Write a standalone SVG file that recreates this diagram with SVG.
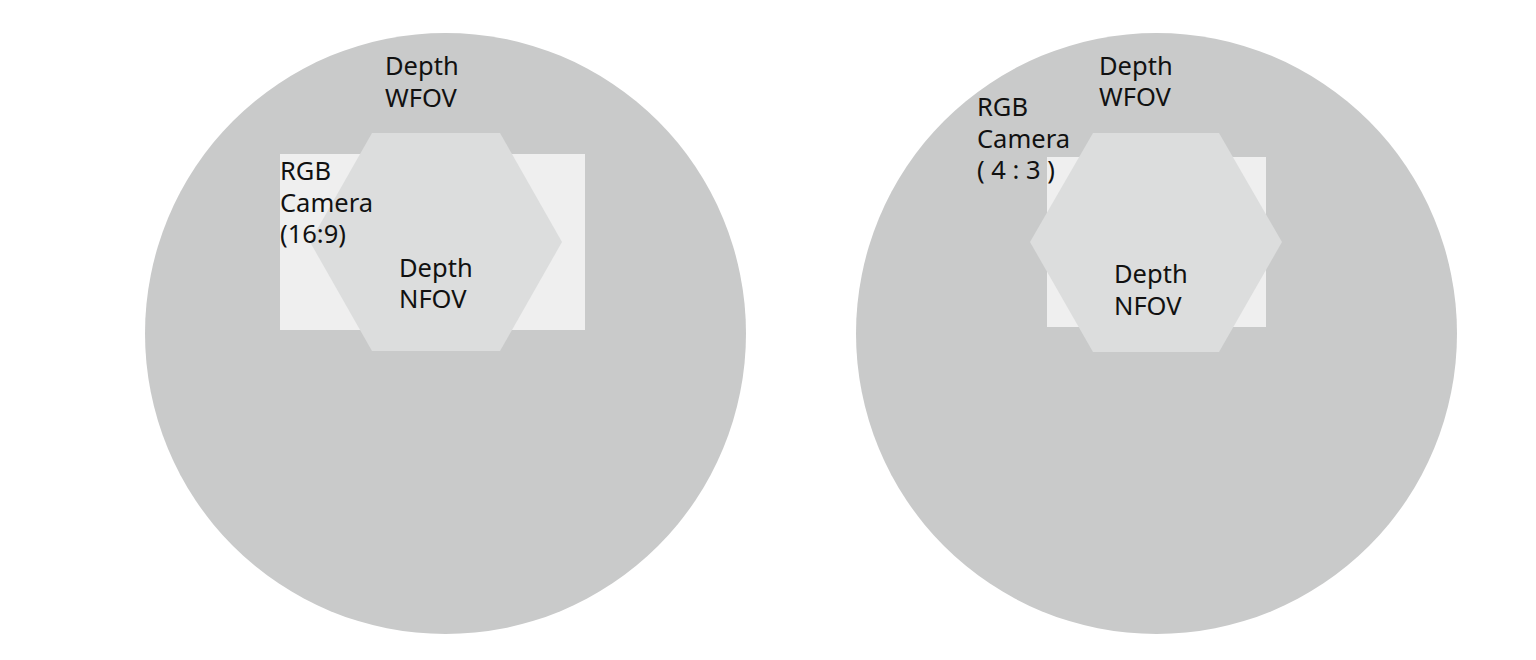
<svg xmlns="http://www.w3.org/2000/svg" width="1536" height="660" viewBox="0 0 1536 660">
<style>
.fov{fill:#c9caca}
.rgb{fill:#efefef}
.nfov{fill:#dcdddd}
text{font-family:"Noto Sans","Open Sans","DejaVu Sans",sans-serif;font-size:25.5px;fill:#111}
</style>
<rect width="1536" height="660" fill="#ffffff"/>
<g id="left">
<g id="left-wfov"><circle class="fov" cx="445.5" cy="333.5" r="300.5"/></g>
<g id="left-rgb"><rect class="rgb" x="280" y="154" width="305" height="176"/></g>
<g id="left-nfov"><polygon class="nfov" points="372,133 500,133 562,242 500,351 372,351 310,242"/></g>
<g id="left-labels">
<text x="385" y="75">Depth</text>
<text x="385" y="107">WFOV</text>
<text x="280" y="180">RGB</text>
<text x="280" y="212">Camera</text>
<text x="280" y="243">(16:9)</text>
<text x="399" y="277">Depth</text>
<text x="399" y="308">NFOV</text>
</g>
</g>
<g id="right">
<g id="right-wfov"><circle class="fov" cx="1156.5" cy="333.5" r="300.5"/></g>
<g id="right-rgb"><rect class="rgb" x="1047" y="157" width="219" height="170"/></g>
<g id="right-nfov"><polygon class="nfov" points="1093,133 1219,133 1282,242 1219,352 1093,352 1030,242"/></g>
<g id="right-labels">
<text x="1099" y="75">Depth</text>
<text x="1099" y="106">WFOV</text>
<text x="977" y="116">RGB</text>
<text x="977" y="148">Camera</text>
<text x="977" y="179">( 4 : 3 )</text>
<text x="1114" y="283">Depth</text>
<text x="1114" y="315">NFOV</text>
</g>
</g>
<g id="connectors"/>
</svg>
